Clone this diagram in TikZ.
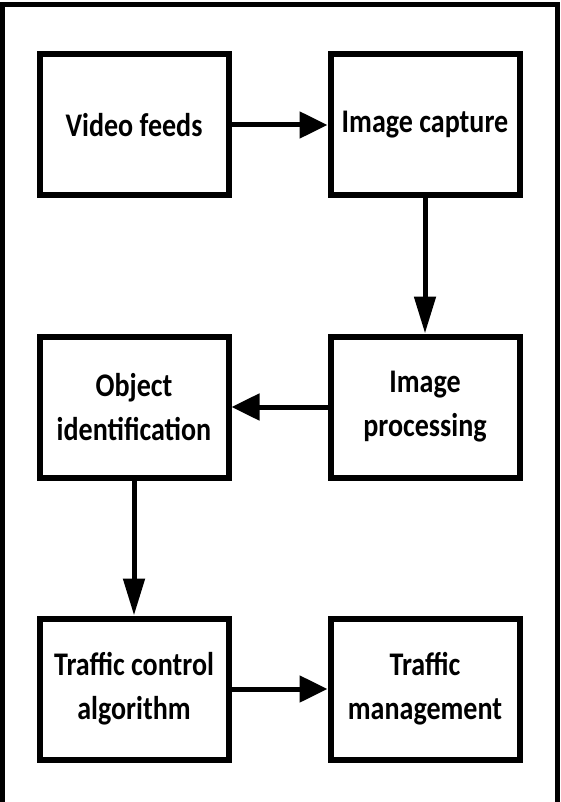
\documentclass[tikz,border=0pt]{standalone}
\usepackage{fontspec}
\setmainfont{Carlito}[FakeStretch=0.85]
\usetikzlibrary{arrows.meta,positioning}
\tikzset{step box/.style={rectangle,draw,line width=6pt,minimum width=189pt,minimum height=141pt,
                          align=center,inner sep=0pt,font=\bfseries\fontsize{33}{44}\selectfont},
         flow/.style={line width=5pt,-{Triangle[length=28pt,width=26pt]}},
         flow down/.style={line width=5pt,-{Triangle[length=37pt,width=21pt]}},
}

\begin{document}
\begin{tikzpicture}[x=1pt,y=-1pt,
node distance = 135pt and 96pt]

% \draw[help lines] (0,0) grid (561,802);
\useasboundingbox (0,0) rectangle (561,802);

\draw[line width=4.5pt] (2.5,802) -- (2.5,4.5) -- (557.5,4.5) -- (557.5,802);

\node[step box] (video) at (134,125) {Video feeds};
\node[step box, right=of video] (capture) {Image capture};
\node[step box, below=of capture] (processing) {Image\\processing};
\node[step box, below=of video] (object) {Object\\identification};
\node[step box, below=of object] (algorithm) {Traffic control\\algorithm};
\node[step box, right=of algorithm] (management) {Traffic\\management};

\draw[flow] (video) -- (capture);
\draw[flow down] (capture) -- (processing);
\draw[flow] (processing) -- (object);
\draw[flow down] (object) -- (algorithm);
\draw[flow] (algorithm) -- (management);
\end{tikzpicture}
\end{document}
